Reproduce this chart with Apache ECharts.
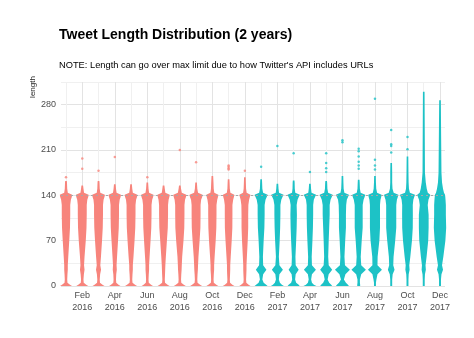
<!DOCTYPE html>
<html>
<head>
<meta charset="utf-8">
<script src="https://cdn.jsdelivr.net/npm/echarts@6/dist/echarts.min.js"></script>
<style>
  html, body { margin: 0; padding: 0; background: #fff; }
  #chart { width: 474px; height: 338px; }
</style>
</head>
<body>
<div id="chart"></div>
<script>
// months on the x axis, Jan 2016 .. Dec 2017
const monthNames = ['Jan', 'Feb', 'Mar', 'Apr', 'May', 'Jun', 'Jul', 'Aug', 'Sep', 'Oct', 'Nov', 'Dec'];
const years = [2016, 2017];
const yTicks = [0, 70, 140, 210, 280];
const tweetLimit = 140;

const lengthLevels = [0, 2, 5, 10, 18, 25, 32, 45, 70, 90, 110, 125, 133, 138, 141, 144, 150, 160, 175];

// full violin width at each level, as a share of one month step
const violinWidths = [
  [0.74, 0.49, 0.18, 0.15, 0.18, 0.22, 0.22, 0.28, 0.40, 0.49, 0.52, 0.52, 0.60, 0.72, 0.76, 0.22, 0.15, 0.12, 0],
  [0.74, 0.49, 0.18, 0.15, 0.20, 0.28, 0.22, 0.28, 0.43, 0.52, 0.55, 0.55, 0.62, 0.74, 0.78, 0.22, 0.15, 0, 0],
  [0.74, 0.49, 0.18, 0.15, 0.20, 0.31, 0.22, 0.30, 0.43, 0.52, 0.55, 0.55, 0.62, 0.74, 0.78, 0.22, 0.15, 0.12, 0],
  [0.70, 0.46, 0.18, 0.15, 0.18, 0.25, 0.22, 0.28, 0.40, 0.49, 0.52, 0.52, 0.60, 0.72, 0.76, 0.22, 0.15, 0, 0],
  [0.74, 0.49, 0.18, 0.15, 0.18, 0.22, 0.22, 0.30, 0.43, 0.52, 0.55, 0.55, 0.62, 0.74, 0.78, 0.22, 0.15, 0, 0],
  [0.70, 0.46, 0.18, 0.15, 0.18, 0.22, 0.22, 0.28, 0.40, 0.49, 0.52, 0.52, 0.60, 0.72, 0.76, 0.22, 0.15, 0.12, 0],
  [0.74, 0.49, 0.18, 0.15, 0.18, 0.20, 0.22, 0.28, 0.41, 0.52, 0.55, 0.55, 0.62, 0.72, 0.76, 0.22, 0.15, 0, 0],
  [0.74, 0.49, 0.18, 0.15, 0.18, 0.22, 0.24, 0.29, 0.45, 0.55, 0.57, 0.57, 0.64, 0.76, 0.80, 0.24, 0.15, 0, 0],
  [0.74, 0.49, 0.18, 0.15, 0.18, 0.22, 0.24, 0.29, 0.43, 0.53, 0.55, 0.55, 0.62, 0.76, 0.80, 0.24, 0.15, 0.12, 0],
  [0.74, 0.49, 0.18, 0.15, 0.18, 0.22, 0.22, 0.28, 0.41, 0.49, 0.51, 0.51, 0.60, 0.70, 0.74, 0.24, 0.17, 0.14, 0],
  [0.72, 0.46, 0.18, 0.15, 0.18, 0.20, 0.20, 0.26, 0.38, 0.46, 0.47, 0.47, 0.56, 0.66, 0.70, 0.22, 0.15, 0.12, 0],
  [0.70, 0.46, 0.18, 0.15, 0.18, 0.20, 0.20, 0.25, 0.35, 0.41, 0.41, 0.43, 0.52, 0.62, 0.68, 0.22, 0.15, 0.12, 0],
  [0.80, 0.62, 0.31, 0.15, 0.25, 0.65, 0.25, 0.22, 0.31, 0.40, 0.43, 0.43, 0.54, 0.70, 0.80, 0.24, 0.15, 0.12, 0],
  [0.80, 0.55, 0.31, 0.18, 0.25, 0.68, 0.25, 0.18, 0.28, 0.34, 0.37, 0.37, 0.48, 0.64, 0.76, 0.20, 0.14, 0, 0],
  [0.74, 0.62, 0.31, 0.18, 0.25, 0.62, 0.25, 0.22, 0.31, 0.37, 0.40, 0.37, 0.48, 0.64, 0.76, 0.20, 0.14, 0.12, 0],
  [0.80, 0.49, 0.25, 0.15, 0.25, 0.74, 0.25, 0.22, 0.31, 0.37, 0.40, 0.40, 0.48, 0.64, 0.76, 0.20, 0.14, 0, 0],
  [0.74, 0.62, 0.37, 0.18, 0.31, 0.74, 0.31, 0.25, 0.31, 0.37, 0.43, 0.43, 0.54, 0.70, 0.80, 0.24, 0.15, 0.12, 0],
  [0.80, 0.68, 0.43, 0.18, 0.37, 0.92, 0.31, 0.25, 0.34, 0.43, 0.43, 0.46, 0.54, 0.70, 0.80, 0.24, 0.15, 0.12, 0],
  [0.18, 0.18, 0.15, 0.15, 0.31, 0.89, 0.31, 0.25, 0.37, 0.49, 0.49, 0.49, 0.60, 0.74, 0.80, 0.24, 0.15, 0.12, 0],
  [0.12, 0.12, 0.12, 0.18, 0.31, 0.86, 0.31, 0.33, 0.54, 0.62, 0.62, 0.62, 0.68, 0.78, 0.82, 0.26, 0.16, 0.12, 0],
  [0.12, 0.12, 0.12, 0.12, 0.18, 0.41, 0.25, 0.29, 0.49, 0.62, 0.62, 0.62, 0.70, 0.82, 0.88, 0.30, 0.16, 0.12, 0.12],
  [0.12, 0.12, 0.12, 0.12, 0.15, 0.26, 0.22, 0.35, 0.55, 0.65, 0.66, 0.65, 0.72, 0.84, 0.92, 0.30, 0.18, 0.14, 0.12],
  [0.12, 0.12, 0.12, 0.12, 0.15, 0.26, 0.22, 0.35, 0.55, 0.60, 0.60, 0.49, 0.58, 0.72, 0.80, 0.50, 0.37, 0.25, 0.15],
  [0.12, 0.12, 0.12, 0.12, 0.18, 0.37, 0.25, 0.41, 0.66, 0.76, 0.72, 0.72, 0.68, 0.65, 0.62, 0.49, 0.37, 0.25, 0.18]
];

// top of the dense tail of each month
const tailTops = [162, 155, 162, 157, 157, 160, 155, 155, 160, 170, 165, 168,
                  165, 158, 163, 158, 162, 170, 164, 170, 190, 200, 300, 287];

// isolated long tweets: [month index, length]
const outliers = [
  [0, 168], [1, 181], [1, 197], [2, 178], [3, 199], [5, 168], [7, 210], [8, 191],
  [10, 180], [10, 182], [10, 184], [10, 186], [11, 178],
  [12, 184], [13, 216], [14, 205], [15, 176],
  [16, 176], [16, 182], [16, 190], [16, 205], [17, 222], [17, 225],
  [18, 181], [18, 186], [18, 192], [18, 200], [18, 208], [18, 212],
  [19, 180], [19, 186], [19, 195], [19, 289],
  [20, 206], [20, 216], [20, 219], [20, 241], [21, 211], [21, 230]
];

const colors = ['#F7847C', '#1DC2C6'];
const font = "'Liberation Sans', Arial, sans-serif";

let categories = [];
years.forEach(y => monthNames.forEach(m => categories.push(m + '\n' + y)));
const monthIdx = categories.map((c, i) => [i]);

function colorOf(i) {
  return colors[Math.floor(i / 12)];
}

function renderViolin(params, api) {
  let i = api.value(0);
  let widths = violinWidths[i];
  let top = tailTops[i];
  let step = api.size([1, 0])[0];
  let left = [], right = [];
  lengthLevels.forEach((lv, k) => {
    if (lv >= top || !widths[k]) return;
    let p = api.coord([i, lv]);
    let half = step * widths[k] / 2;
    left.push([p[0] - half, p[1]]);
    right.push([p[0] + half, p[1]]);
  });
  let pt = api.coord([i, top]);
  let stem = step * 0.1 / 2;
  left.push([pt[0] - stem, pt[1]]);
  right.push([pt[0] + stem, pt[1]]);
  return {
    type: 'polygon',
    shape: { points: left.concat(right.reverse()) },
    style: { fill: colorOf(i) }
  };
}

let chart = echarts.init(document.getElementById('chart'));
chart.setOption({
  animation: false,
  backgroundColor: '#fff',
  textStyle: { fontFamily: font },
  title: [
    {
      text: 'Tweet Length Distribution (2 years)',
      left: 59, top: 28, padding: 0,
      textStyle: { fontSize: 14, fontWeight: 'bold', color: '#000', fontFamily: font }
    },
    {
      text: "NOTE: Length can go over max limit due to how Twitter's API includes URLs",
      left: 59, top: 61, padding: 0,
      textStyle: { fontSize: 9.3, fontWeight: 'normal', color: '#000', fontFamily: font }
    }
  ],
  graphic: [{
    type: 'text', x: 33, y: 87, rotation: Math.PI / 2,
    style: { text: 'length', fontSize: 8, fill: '#222', align: 'center', verticalAlign: 'middle', fontFamily: font }
  }],
  grid: [
    { left: 66, right: 34, top: 82, bottom: 52 },
    { left: 61, right: 29, top: 82, bottom: 52 }
  ],
  xAxis: [
    {
      type: 'category', gridIndex: 0, data: categories, boundaryGap: false,
      axisLine: { show: false }, axisTick: { show: false },
      axisLabel: {
        interval: (idx) => idx % 2 === 1,
        fontSize: 9, color: '#4D4D4D', lineHeight: 12, margin: 4, fontFamily: font
      },
      splitLine: { show: true, interval: 0, lineStyle: { color: ['#F0F0F0', '#E3E3E3'], width: 1 } }
    },
    { type: 'value', gridIndex: 1, show: false, min: 0, max: 1 }
  ],
  yAxis: [
    { type: 'value', gridIndex: 0, min: 0, max: 315, show: false },
    {
      type: 'value', gridIndex: 1, min: 0, max: 315, interval: 35,
      axisLine: { show: false }, axisTick: { show: false },
      axisLabel: {
        formatter: v => yTicks.indexOf(v) >= 0 ? String(v) : '',
        fontSize: 9, color: '#4D4D4D', margin: 5, fontFamily: font
      },
      splitLine: { show: true, lineStyle: { color: ['#E3E3E3', '#F0F0F0'], width: 1 } }
    }
  ],
  series: [
    {
      type: 'line', xAxisIndex: 1, yAxisIndex: 1, data: [],
      markLine: {
        silent: true, symbol: 'none', label: { show: false },
        lineStyle: { color: '#A8A8A8', type: [2, 3], width: 1 },
        data: [{ yAxis: tweetLimit }]
      }
    },
    {
      type: 'custom', xAxisIndex: 0, yAxisIndex: 0, clip: false,
      data: monthIdx, renderItem: renderViolin
    },
    {
      type: 'scatter', xAxisIndex: 0, yAxisIndex: 0, data: outliers,
      symbolSize: 2.5,
      itemStyle: { color: p => colorOf(p.data[0]) }
    }
  ]
});
</script>
</body>
</html>
